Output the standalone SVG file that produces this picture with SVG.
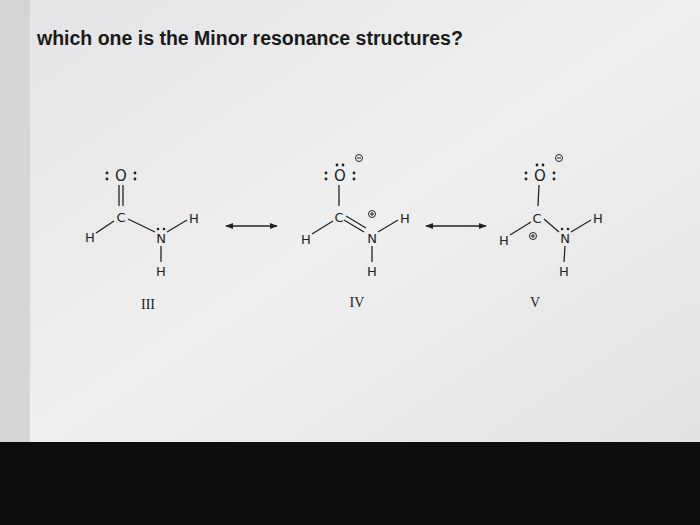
<svg xmlns="http://www.w3.org/2000/svg" width="700" height="525" viewBox="0 0 700 525">
<defs>
<linearGradient id="bg" x1="0" y1="0" x2="1" y2="1"><stop offset="0" stop-color="#e4e4e6"/><stop offset="0.5" stop-color="#efefef"/><stop offset="1" stop-color="#e2e2e2"/></linearGradient>
<marker id="ah" viewBox="0 0 10 10" refX="9" refY="5" markerWidth="6" markerHeight="6" orient="auto-start-reverse"><path d="M0,1 L10,5 L0,9 z" fill="#222"/></marker>
</defs>
<style>
.a{font-family:"DejaVu Sans",sans-serif;font-size:15px;fill:#222;text-anchor:middle}
.h{font-family:"DejaVu Sans",sans-serif;font-size:13px;fill:#222;text-anchor:middle}
.l{font-family:"Liberation Serif",serif;font-size:14px;fill:#222;text-anchor:middle}
.b{stroke:#222;stroke-width:1.3;fill:none}
.d{fill:#222}
.c{fill:none;stroke:#222;stroke-width:1}
</style>
<rect width="700" height="525" fill="#d5d5d5"/>
<rect x="30" y="0" width="670" height="442" fill="url(#bg)"/>
<rect x="0" y="442" width="700" height="83" fill="#0c0c0c"/>
<text x="37" y="45" font-family="Liberation Sans,sans-serif" font-size="19.5" font-weight="bold" fill="#1a1a1a">which one is the Minor resonance structures?</text>
<g id="connectors">
<line x1="226" y1="226" x2="277" y2="226" class="b" marker-start="url(#ah)" marker-end="url(#ah)"/>
<line x1="426" y1="226" x2="486" y2="226" class="b" marker-start="url(#ah)" marker-end="url(#ah)"/>
</g>
<g id="III">
<text x="121" y="181" class="a">O</text>
<circle cx="107" cy="173" r="1.4" class="d"/><circle cx="107" cy="179" r="1.4" class="d"/><circle cx="135" cy="173" r="1.4" class="d"/><circle cx="135" cy="179" r="1.4" class="d"/>
<line x1="119" y1="185" x2="119" y2="206" class="b"/><line x1="123" y1="185" x2="123" y2="206" class="b"/>
<text x="121" y="222" class="h">C</text>
<line x1="96" y1="233" x2="114" y2="221" class="b"/>
<line x1="128" y1="219" x2="155" y2="232" class="b"/>
<text x="90" y="242" class="h">H</text>
<text x="161" y="243" class="h">N</text>
<circle cx="158" cy="229" r="1.3" class="d"/><circle cx="164" cy="229" r="1.3" class="d"/>
<line x1="167" y1="232" x2="187" y2="220" class="b"/>
<text x="194" y="223" class="h">H</text>
<line x1="161" y1="246" x2="161" y2="262" class="b"/>
<text x="161" y="276" class="h">H</text>
<text x="148" y="309" class="l">III</text>
</g>
<g id="IV">
<text x="340" y="181" class="a">O</text>
<circle cx="326" cy="173" r="1.4" class="d"/><circle cx="326" cy="179" r="1.4" class="d"/><circle cx="354" cy="173" r="1.4" class="d"/><circle cx="354" cy="179" r="1.4" class="d"/>
<circle cx="337" cy="165" r="1.4" class="d"/><circle cx="343" cy="165" r="1.4" class="d"/>
<circle cx="359" cy="158" r="3.5" class="c"/><line x1="357" y1="158" x2="361" y2="158" class="c"/>
<line x1="339" y1="185" x2="339" y2="206" class="b"/>
<text x="339" y="222" class="h">C</text>
<line x1="312" y1="234" x2="333" y2="221" class="b"/>
<line x1="346" y1="216" x2="366" y2="228" class="b"/><line x1="344" y1="220" x2="364" y2="232" class="b"/>
<text x="306" y="244" class="h">H</text>
<text x="372" y="243" class="h">N</text>
<circle cx="372" cy="214" r="3.5" class="c"/><line x1="370" y1="214" x2="374" y2="214" class="c"/><line x1="372" y1="212" x2="372" y2="216" class="c"/>
<line x1="378" y1="232" x2="398" y2="220" class="b"/>
<text x="405" y="223" class="h">H</text>
<line x1="372" y1="246" x2="372" y2="262" class="b"/>
<text x="372" y="276" class="h">H</text>
<text x="357" y="307" class="l">IV</text>
</g>
<g id="V">
<text x="540" y="181" class="a">O</text>
<circle cx="526" cy="173" r="1.4" class="d"/><circle cx="526" cy="179" r="1.4" class="d"/><circle cx="554" cy="173" r="1.4" class="d"/><circle cx="554" cy="179" r="1.4" class="d"/>
<circle cx="537" cy="165" r="1.4" class="d"/><circle cx="543" cy="165" r="1.4" class="d"/>
<circle cx="559" cy="158" r="3.5" class="c"/><line x1="557" y1="158" x2="561" y2="158" class="c"/>
<line x1="539" y1="185" x2="538" y2="206" class="b"/>
<text x="537" y="223" class="h">C</text>
<line x1="510" y1="235" x2="531" y2="222" class="b"/>
<line x1="544" y1="219" x2="559" y2="232" class="b"/>
<circle cx="533" cy="236" r="3.5" class="c"/><line x1="531" y1="236" x2="535" y2="236" class="c"/><line x1="533" y1="234" x2="533" y2="238" class="c"/>
<text x="504" y="245" class="h">H</text>
<text x="565" y="243" class="h">N</text>
<circle cx="562" cy="229" r="1.3" class="d"/><circle cx="568" cy="229" r="1.3" class="d"/>
<line x1="571" y1="232" x2="591" y2="220" class="b"/>
<text x="598" y="223" class="h">H</text>
<line x1="565" y1="246" x2="564" y2="262" class="b"/>
<text x="564" y="276" class="h">H</text>
<text x="535" y="307" class="l">V</text>
</g>
</svg>
